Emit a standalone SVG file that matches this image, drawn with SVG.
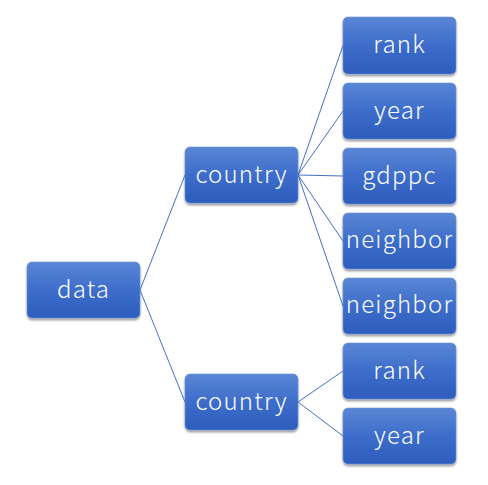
<svg xmlns="http://www.w3.org/2000/svg" width="488" height="485" viewBox="0 0 488 485">
<defs>
<linearGradient id="g" x1="0" y1="0" x2="0" y2="1">
<stop offset="0" stop-color="#5a86d4"/>
<stop offset="0.5" stop-color="#3d6dcb"/>
<stop offset="1" stop-color="#2e5dbd"/>
</linearGradient>
<filter id="sh" x="-10%" y="-10%" width="120%" height="130%">
<feGaussianBlur in="SourceAlpha" stdDeviation="1.2"/>
<feOffset dx="0" dy="2" result="b"/>
<feComponentTransfer><feFuncA type="linear" slope="0.4"/></feComponentTransfer>
<feMerge><feMergeNode/><feMergeNode in="SourceGraphic"/></feMerge>
</filter>
</defs>
<style>
.box{fill:url(#g);stroke:#6b90d8;stroke-width:0.6;filter:url(#sh)}
.t{font-family:"Noto Sans CJK JP","Noto Sans",sans-serif;font-weight:300;font-size:24px;fill:#ffffff;text-anchor:middle;letter-spacing:1.2px}
.c{stroke:#4472c4;stroke-width:1;fill:none}
</style>
<rect width="488" height="485" fill="#ffffff"/>
<g id="connectors">
<line class="c" x1="140" y1="290" x2="185" y2="175"/>
<line class="c" x1="140" y1="290" x2="185" y2="402"/>
<line class="c" x1="298" y1="175" x2="343" y2="45.5"/>
<line class="c" x1="298" y1="175" x2="343" y2="111"/>
<line class="c" x1="298" y1="175" x2="343" y2="176"/>
<line class="c" x1="298" y1="175" x2="343" y2="241"/>
<line class="c" x1="298" y1="175" x2="343" y2="306"/>
<line class="c" x1="298" y1="402" x2="343" y2="371"/>
<line class="c" x1="298" y1="402" x2="343" y2="436"/>
</g>
<g id="data"><rect class="box" x="27" y="262" width="113" height="56" rx="5"/><text class="t" x="83.5" y="298">data</text></g>
<g id="country1"><rect class="box" x="185" y="147" width="113" height="56" rx="5"/><text class="t" x="241.5" y="183">country</text></g>
<g id="country2"><rect class="box" x="185" y="374" width="113" height="56" rx="5"/><text class="t" x="241.5" y="410">country</text></g>
<g id="rank1"><rect class="box" x="343" y="17" width="113" height="57" rx="5"/><text class="t" x="399.5" y="53">rank</text></g>
<g id="year1"><rect class="box" x="343" y="83" width="113" height="56" rx="5"/><text class="t" x="399.5" y="119">year</text></g>
<g id="gdppc"><rect class="box" x="343" y="148" width="113" height="56" rx="5"/><text class="t" x="399.5" y="184">gdppc</text></g>
<g id="neighbor1"><rect class="box" x="343" y="213" width="113" height="56" rx="5"/><text class="t" x="399.5" y="248">neighbor</text></g>
<g id="neighbor2"><rect class="box" x="343" y="278" width="113" height="56" rx="5"/><text class="t" x="399.5" y="313">neighbor</text></g>
<g id="rank2"><rect class="box" x="343" y="343" width="113" height="56" rx="5"/><text class="t" x="399.5" y="379">rank</text></g>
<g id="year2"><rect class="box" x="343" y="408" width="113" height="56" rx="5"/><text class="t" x="399.5" y="444">year</text></g>
</svg>
